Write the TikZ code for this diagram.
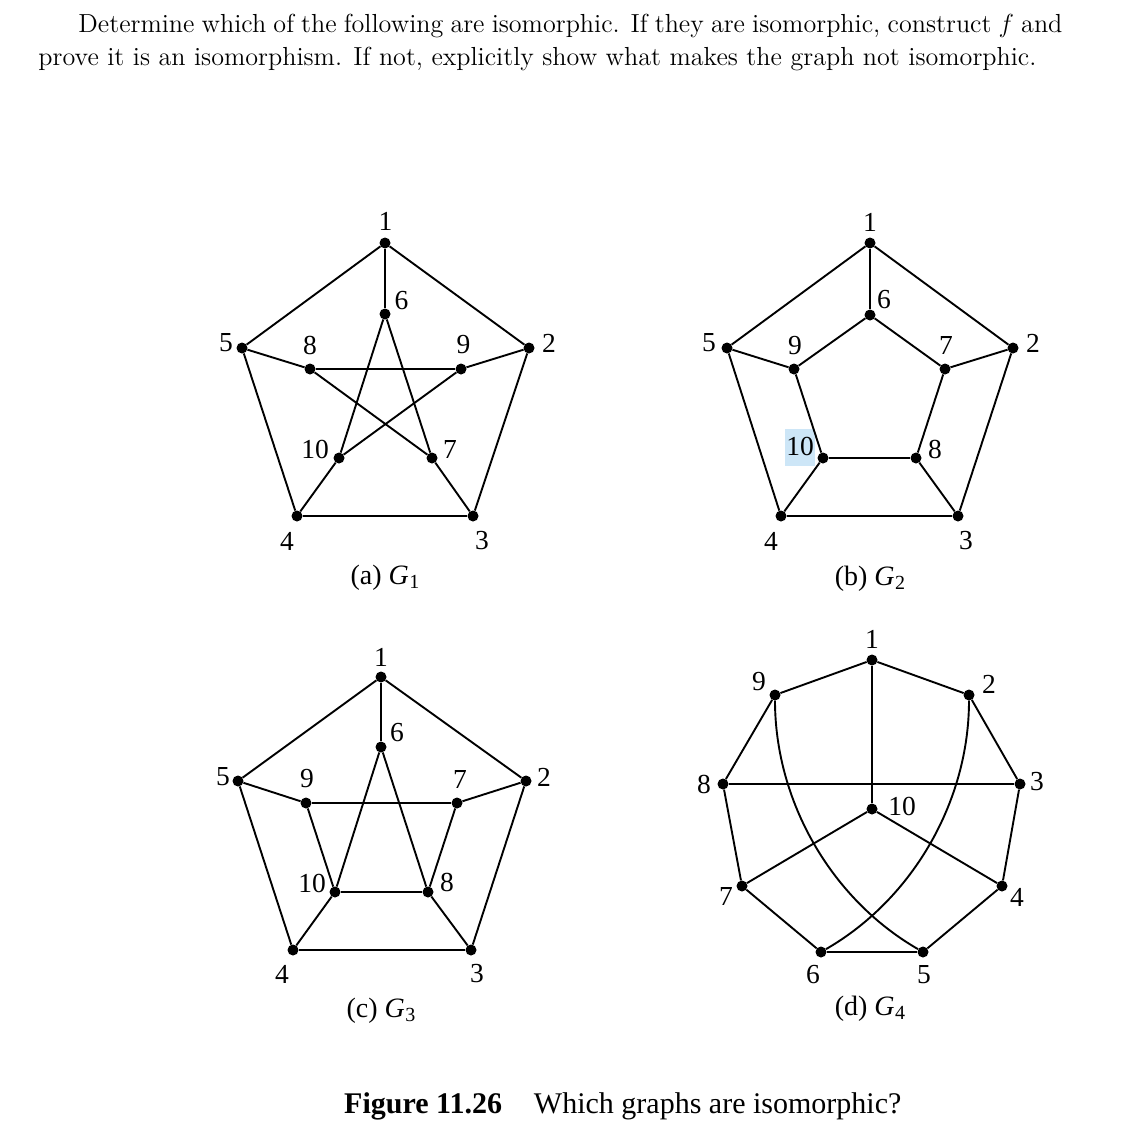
\documentclass[tikz,border=0pt]{standalone}
\usepackage{fontspec}
\newfontfamily\tms{Liberation Serif}
\definecolor{hl}{RGB}{205,230,247}
\newcommand{\gsub}[1]{\textit{G}\kern0.5pt\raisebox{-0.28ex}{\fontsize{20}{20}\selectfont #1}}
\begin{document}
\begin{tikzpicture}[x=1pt,y=-1pt,
  v/.style={circle,fill=black,inner sep=0pt,minimum size=11pt},
  lab/.style={font={\tms\fontsize{27.5}{30}\selectfont},inner sep=0pt},
  subcap/.style={font={\tms\fontsize{28}{30}\selectfont},inner sep=0pt},
  edge/.style={line width=1.9pt}]
\useasboundingbox (0,0) rectangle (1128,1146);

% ---------- header text ----------
\node[anchor=base west,inner sep=0pt,scale=2.176] (t1) at (78,32)
  {\fontsize{12}{14.5}\selectfont\makebox[452.2pt][s]{Determine which of the following are isomorphic. If they are isomorphic, construct $f$ and}};
\node[anchor=base west,inner sep=0pt,scale=2.176] (t2) at (38,65)
  {\fontsize{12}{14.5}\selectfont prove it is an isomorphism. If not, explicitly show what makes the graph not isomorphic.};

% ---------- G1 ----------
\foreach \n/\x/\y in {1/385/243,2/529/348,3/473/516,4/297/516,5/242/348,6/385/314,7/432/458,8/310/369,9/461/369,10/339/458}
  \node[v] (a\n) at (\x,\y) {};
\foreach \p/\q in {1/2,2/3,3/4,4/5,5/1,1/6,5/8,2/9,8/9,8/7,9/10,6/10,6/7,10/4,7/3}
  \draw[edge] (a\p) -- (a\q);
\foreach \n/\x/\y in {1/385.5/221,2/549/343,3/482/541,4/287/541,5/226/343,6/401.5/301,7/450/449,8/310/345,9/463.5/345,10/315/449}
  \node[lab] (la\n) at (\x,\y) {\n};
\node[subcap] (capa) at (385,578) {(a) \gsub{1}};

% ---------- G2 ----------
\fill[hl] (785,429) rectangle (815,466);
\foreach \n/\x/\y in {1/870/243,2/1013/348,3/958/516,4/781/516,5/727/348,6/870/315,7/945/369,8/916/458,9/794/369,10/823/458}
  \node[v] (b\n) at (\x,\y) {};
\foreach \p/\q in {1/2,2/3,3/4,4/5,5/1,1/6,6/9,6/7,5/9,2/7,9/10,7/8,10/8,10/4,8/3}
  \draw[edge] (b\p) -- (b\q);
\foreach \n/\x/\y in {1/870/222,2/1033/343,3/966/541,4/771/541,5/709/343,6/884/300,7/946/345,8/935/449,9/795/346,10/800/446}
  \node[lab] (lb\n) at (\x,\y) {\n};
\node[subcap] (capb) at (870,579) {(b) \gsub{2}};

% ---------- G3 ----------
\foreach \n/\x/\y in {1/381/677,2/526/781,3/471/950,4/293/950,5/238/781,6/381/747,7/457/803,8/428/892,9/306/803,10/335/892}
  \node[v] (c\n) at (\x,\y) {};
\foreach \p/\q in {1/2,2/3,3/4,4/5,5/1,1/6,5/9,9/7,7/2,6/10,6/8,9/10,7/8,10/8,10/4,8/3}
  \draw[edge] (c\p) -- (c\q);
\foreach \n/\x/\y in {1/381/657,2/544/777,3/477/974,4/282/974,5/223/777,6/397/733,7/460/779,8/447/882,9/307/779,10/312/883}
  \node[lab] (lc\n) at (\x,\y) {\n};
\node[subcap] (capc) at (381,1011) {(c) \gsub{3}};

% ---------- G4 ----------
\foreach \n/\x/\y in {1/872/660,2/969/695,3/1020/784,4/1002/886,5/923/952,6/821/952,7/742/886,8/723/784,9/775/695,10/872/809}
  \node[v] (d\n) at (\x,\y) {};
\foreach \p/\q in {1/2,2/3,3/4,4/5,5/6,6/7,7/8,8/9,9/1,1/10,8/3,10/7,10/4}
  \draw[edge] (d\p) -- (d\q);
\draw[edge] (d9) .. controls (775,801) and (831,899) .. (d5);
\draw[edge] (d2) .. controls (969,801) and (913,899) .. (d6);
\foreach \n/\x/\y in {1/872/639,2/989/684,3/1037/782,4/1017/897,5/924/975,6/813/975,7/726/896,8/704/784,9/759/682,10/902/806}
  \node[lab] (ld\n) at (\x,\y) {\n};
\node[subcap] (capd) at (870,1009) {(d) \gsub{4}};

% ---------- caption ----------
\node[anchor=base west,inner sep=0pt,font={\tms\fontsize{30}{32}\selectfont}] (fig) at (344,1113)
  {\textbf{Figure 11.26}\hspace{32pt}Which graphs are isomorphic?};
\end{tikzpicture}
\end{document}
